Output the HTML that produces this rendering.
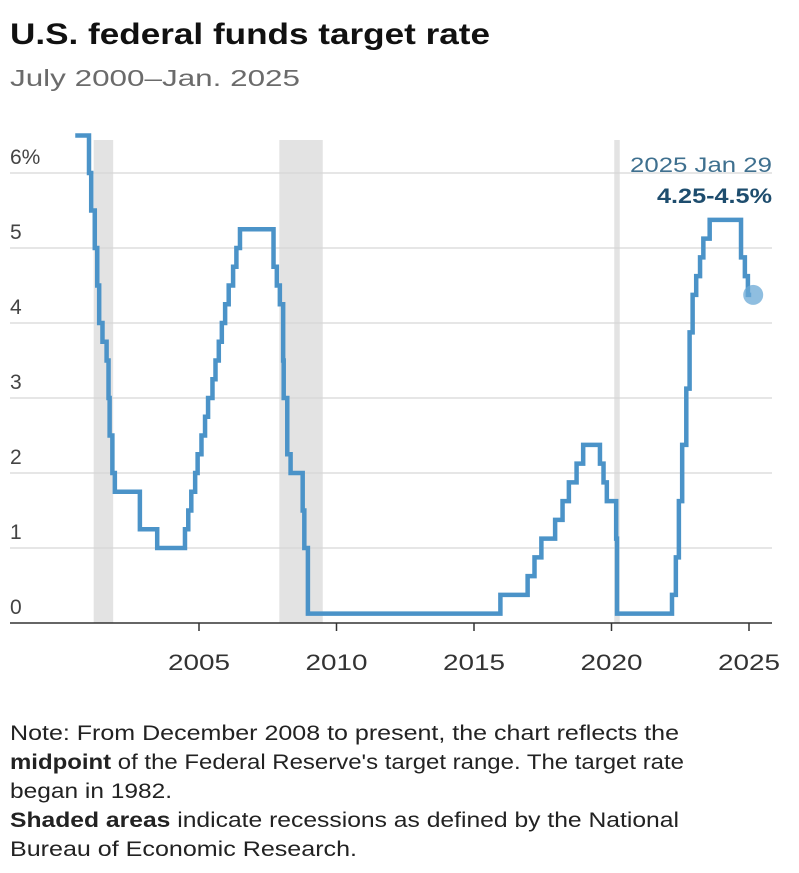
<!DOCTYPE html>
<html><head><meta charset="utf-8">
<style>
body{margin:0;background:#fff;width:799px;height:868px;overflow:hidden;font-family:"Liberation Sans",sans-serif;}
</style></head>
<body>
<svg width="799" height="868" viewBox="0 0 799 868" id="chart">
<text x="10" y="44" font-size="30" font-weight="bold" fill="#111" textLength="480" lengthAdjust="spacingAndGlyphs">U.S. federal funds target rate</text>
<text x="10" y="86" font-size="23" fill="#6b6b6b" textLength="290" lengthAdjust="spacingAndGlyphs">July 2000–Jan. 2025</text>
<g id="rec"></g>
<g id="grid"></g>
<g id="xax"></g>
<path id="line" fill="none" stroke="#4b93c8" stroke-width="4.5" stroke-linejoin="miter"/>
<circle id="dot" r="10" fill="#6aa8d6" fill-opacity="0.75"/>
<text x="772" y="172" text-anchor="end" font-size="21" fill="#3f708f" textLength="142" lengthAdjust="spacingAndGlyphs">2025 Jan 29</text>
<text x="772" y="203" text-anchor="end" font-size="21" font-weight="bold" fill="#1e4d6e" textLength="115" lengthAdjust="spacingAndGlyphs">4.25-4.5%</text>
<g font-size="21" fill="#222">
<text x="10" y="740" textLength="669" lengthAdjust="spacingAndGlyphs">Note: From December 2008 to present, the chart reflects the</text>
<text x="10" y="769" textLength="674" lengthAdjust="spacingAndGlyphs"><tspan font-weight="bold">midpoint</tspan> of the Federal Reserve's target range. The target rate</text>
<text x="10" y="798" textLength="162" lengthAdjust="spacingAndGlyphs">began in 1982.</text>
<text x="10" y="827" textLength="669" lengthAdjust="spacingAndGlyphs"><tspan font-weight="bold">Shaded areas</tspan> indicate recessions as defined by the National</text>
<text x="10" y="856" textLength="347" lengthAdjust="spacingAndGlyphs">Bureau of Economic Research.</text>
</g>
</svg>
<script>
const dates=[2000.5,2001.0,2001.08,2001.21,2001.3,2001.37,2001.49,2001.64,2001.71,2001.75,2001.85,2001.94,2002.85,2003.48,2004.49,2004.61,2004.72,2004.86,2004.95,2005.09,2005.22,2005.33,2005.49,2005.6,2005.72,2005.83,2005.95,2006.08,2006.24,2006.36,2006.49,2007.71,2007.83,2007.94,2008.06,2008.08,2008.21,2008.33,2008.77,2008.83,2008.96,2015.96,2016.95,2017.2,2017.45,2017.95,2018.22,2018.45,2018.73,2018.97,2019.58,2019.71,2019.83,2020.17,2020.2,2022.2,2022.34,2022.45,2022.57,2022.72,2022.84,2022.95,2023.08,2023.22,2023.34,2023.57,2024.71,2024.85,2024.96];
const rates=[6.5,6.0,5.5,5.0,4.5,4.0,3.75,3.5,3.0,2.5,2.0,1.75,1.25,1.0,1.25,1.5,1.75,2.0,2.25,2.5,2.75,3.0,3.25,3.5,3.75,4.0,4.25,4.5,4.75,5.0,5.25,4.75,4.5,4.25,3.5,3.0,2.25,2.0,1.5,1.0,0.125,0.375,0.625,0.875,1.125,1.375,1.625,1.875,2.125,2.375,2.125,1.875,1.625,1.125,0.125,0.375,0.875,1.625,2.375,3.125,3.875,4.375,4.625,4.875,5.125,5.375,4.875,4.625,4.375];
const endDate=2025.08;
const recessions=[[2001.17,2001.88],[2007.92,2009.5],[2020.1,2020.3]];
const yTicks=[0,1,2,3,4,5,6];
const yTickLabels=["0","1","2","3","4","5","6%"];
const xTicks=[2005,2010,2015,2020,2025];
const X=t=>199+(t-2005)*27.5;
const Y=v=>623-v*75;
const NS="http://www.w3.org/2000/svg";
function mk(tag,attrs,parent){const e=document.createElementNS(NS,tag);for(const k in attrs)e.setAttribute(k,attrs[k]);document.getElementById(parent).appendChild(e);return e;}
recessions.forEach(r=>{
  const w=Math.max(X(r[1])-X(r[0]),3);
  const e=mk('rect',{x:X(r[0]),y:140,width:w,height:623-140,fill:'#e3e3e3'},'rec');
  
  
});
yTicks.forEach((v,i)=>{
  if(v>0){const l=mk('line',{x1:10,x2:772,y1:Y(v),y2:Y(v),stroke:'#d6d6d6','stroke-width':1.3},'grid');
  
  }
  const t=mk('text',{x:10,y:Y(v)-9,'font-size':21,fill:'#444'},'grid');
  t.textContent=yTickLabels[i];
  
  
});
const ax=mk('line',{x1:10,x2:772,y1:623,y2:623,stroke:'#333','stroke-width':1.5},'xax');


xTicks.forEach(t=>{
  const l=mk('line',{x1:X(t),x2:X(t),y1:623,y2:631,stroke:'#333','stroke-width':1.5},'xax');
  
  
  const s=mk('text',{x:X(t),y:670,'text-anchor':'middle','font-size':22,fill:'#333',textLength:62,lengthAdjust:'spacingAndGlyphs'},'xax');
  s.textContent=t;
  
  
});
let d='M'+X(dates[0])+','+Y(rates[0]);
for(let i=1;i<dates.length;i++){d+=' H'+X(dates[i])+' V'+Y(rates[i]);}
d+=' H'+X(endDate);
document.getElementById('line').setAttribute('d',d);
const dot=document.getElementById('dot');
dot.setAttribute('cx',X(endDate)+2);
dot.setAttribute('cy',Y(rates[rates.length-1]));
</script>
</body></html>
